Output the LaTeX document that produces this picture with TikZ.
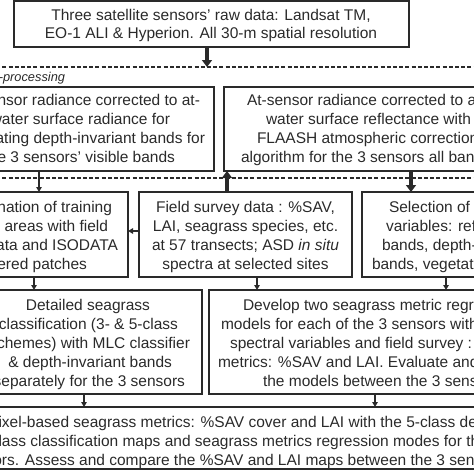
\documentclass[tikz,border=0pt]{standalone}
\usepackage{fontspec}
\setmainfont{Liberation Sans}
\usetikzlibrary{arrows.meta}
\definecolor{ink}{HTML}{2A2A2A}
\begin{document}
\begin{tikzpicture}[x=1pt,y=-1pt,
  box/.style={draw=ink, line width=1.8pt, inner sep=0pt, outer sep=0pt, anchor=north west},
  txt/.style={inner sep=0pt, outer sep=0pt, text=ink, font=\fontsize{15.5}{18.6}\selectfont},
  lbl/.style={inner sep=0pt, outer sep=0pt, text=ink, font=\fontsize{12.8}{15}\selectfont\itshape},
  sep/.style={draw=ink, line width=1.4pt, dash pattern=on 4pt off 2.2pt},
  bigarrow/.style={draw=ink, line width=3.4pt, -{Triangle[width=10pt,length=7pt]}},
  smallarrow/.style={draw=ink, line width=1.4pt, -{Triangle[width=5.5pt,length=5pt]}}]
\useasboundingbox (0,0) rectangle (474,474);
\clip (0,0) rectangle (474,474);
% boxes
\node[box, minimum width=395pt, minimum height=46pt] (top) at (14,1) {};
\node[box, minimum width=264pt, minimum height=84pt] (pl) at (-50,87) {};
\node[box, minimum width=306pt, minimum height=84pt] (pr) at (224,87) {};
\node[box, minimum width=178pt, minimum height=85pt] (tr) at (-50,192) {};
\node[box, minimum width=213pt, minimum height=85pt] (fs) at (139,192) {};
\node[box, minimum width=168pt, minimum height=85pt] (sel) at (362,192) {};
\node[box, minimum width=252pt, minimum height=104pt] (cls) at (-50,290) {};
\node[box, minimum width=321pt, minimum height=104pt] (reg) at (209,290) {};
\node[box, minimum width=580pt, minimum height=62pt] (out) at (-50,407) {};
% dashed separators
\coordinate (d1a) at (-10,67); \coordinate (d1b) at (484,67);
\coordinate (d2a) at (-10,178); \coordinate (d2b) at (484,178);
\draw[sep] (d1a) -- (d1b);
\draw[sep] (d2a) -- (d2b);
\node[lbl, anchor=base east] (prelbl) at (65,81) {Pre-processing};
% texts
\node[txt, anchor=base] (t1) at (211,20) {Three satellite sensors’ raw data: Landsat TM,};
\node[txt, anchor=base] (t2) at (211,38.6) {EO-1 ALI \& Hyperion. All 30-m spatial resolution};
\node[txt, anchor=base east] (pl1) at (200,105) {At-sensor radiance corrected to at-};
\node[txt, anchor=base east] (pl2) at (170,124) {water surface radiance for};
\node[txt, anchor=base east] (pl3) at (205,143) {calculating depth-invariant bands for};
\node[txt, anchor=base east] (pl4) at (175,162) {the 3 sensors’ visible bands};
\node[txt, anchor=base west] (pr1) at (247,105) {At-sensor radiance corrected to at-};
\node[txt, anchor=base west] (pr2) at (266,124) {water surface reflectance with};
\node[txt, anchor=base west] (pr3) at (257,143) {FLAASH atmospheric correction};
\node[txt, anchor=base west] (pr4) at (241,162) {algorithm for the 3 sensors all bands};
\node[txt, anchor=base east] (tr1) at (112,212) {Determination of training};
\node[txt, anchor=base east] (tr2) at (108,231) {areas with field};
\node[txt, anchor=base east] (tr3) at (118,250) {data and ISODATA};
\node[txt, anchor=base east] (tr4) at (87,269) {clustered patches};
\node[txt, anchor=base] (fs1) at (245.5,212) {Field survey data : \%SAV,};
\node[txt, anchor=base] (fs2) at (245.5,231) {LAI, seagrass species, etc.};
\node[txt, anchor=base] (fs3) at (245.5,250) {at 57 transects; ASD \textit{in situ}};
\node[txt, anchor=base] (fs4) at (245.5,269) {spectra at selected sites};
\node[txt, anchor=base west] (sel1) at (389,212) {Selection of};
\node[txt, anchor=base west] (sel2) at (386,231) {variables: reflectance};
\node[txt, anchor=base west] (sel3) at (382,250) {bands, depth-invariant};
\node[txt, anchor=base west] (sel4) at (372,269) {bands, vegetation};
\node[txt, anchor=base east] (cl1) at (150,310) {Detailed seagrass};
\node[txt, anchor=base east] (cl2) at (178,329) {classification (3- \& 5-class};
\node[txt, anchor=base east] (cl3) at (190,348) {schemes) with MLC classifier};
\node[txt, anchor=base east] (cl4) at (172,367) {\& depth-invariant bands};
\node[txt, anchor=base east] (cl5) at (185,386) {separately for the 3 sensors};
\node[txt, anchor=base west] (rg1) at (243,310) {Develop two seagrass metric regression};
\node[txt, anchor=base west] (rg2) at (221,329) {models for each of the 3 sensors with};
\node[txt, anchor=base west] (rg3) at (230,348) {spectral variables and field survey :};
\node[txt, anchor=base west] (rg4) at (218,367) {metrics: \%SAV and LAI. Evaluate and};
\node[txt, anchor=base west] (rg5) at (263,386) {the models between the 3 sensors};
\node[txt, anchor=base west] (o1) at (2,427) {\llap{Pi}xel-based seagrass metrics: \%SAV cover and LAI with the 5-class detailed};
\node[txt, anchor=base west] (o2) at (2,446) {\llap{cl}ass classification maps and seagrass metrics regression modes for the};
\node[txt, anchor=base west] (o3) at (2,465) {\llap{senso}rs. Assess and compare the \%SAV and LAI maps between the 3 sensors};
% connectors
\draw[bigarrow] (207,0 |- top.south) -- (207,0 |- d1a);
\draw[smallarrow] (39,0 |- pl.south) -- (39,0 |- tr.north);
\draw[bigarrow] (227,0 |- fs.north) -- (227,0 |- pr.south);
\draw[bigarrow] (411,0 |- pr.south) -- (411,0 |- sel.north);
\draw[smallarrow] (fs.west |- 0,231) -- (tr.east |- 0,231);
\draw[smallarrow] (34,0 |- tr.south) -- (34,0 |- cls.north);
\draw[smallarrow] (257,0 |- fs.south) -- (257,0 |- reg.north);
\draw[smallarrow] (446,0 |- sel.south) -- (446,0 |- reg.north);
\draw[smallarrow] (84,0 |- cls.south) -- (84,0 |- out.north);
\draw[smallarrow] (375,0 |- reg.south) -- (375,0 |- out.north);
\end{tikzpicture}
\end{document}
